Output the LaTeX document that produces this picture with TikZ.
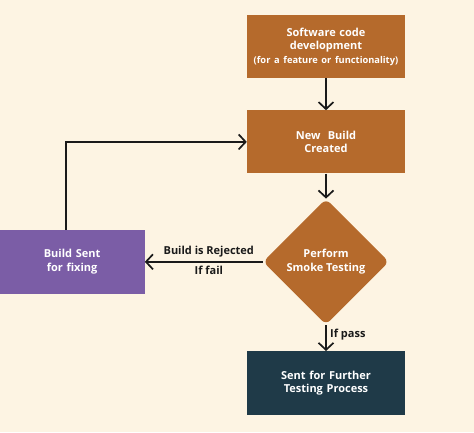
\documentclass[tikz,border=0pt]{standalone}
\usepackage{fontspec}
\setmainfont{Open Sans}
\usetikzlibrary{positioning, arrows.meta, shapes.geometric}
\definecolor{SmokeCream}{HTML}{FDF4E3}
\definecolor{SmokeOrange}{HTML}{B56A2C}
\definecolor{SmokePurple}{HTML}{7B5DA6}
\definecolor{SmokeNavy}{HTML}{1F3A48}
\definecolor{SmokeInk}{HTML}{1A1A1A}

\begin{document}
\begin{tikzpicture}[
        node distance=32pt,
        stage/.style={
            rectangle, minimum width=158pt, minimum height=63pt, inner sep=0pt,
            align=center, text width=150pt, text=white, font=\bfseries\fontsize{11}{13.5}\selectfont
        },
        check/.style={
            diamond, rounded corners=6pt, minimum width=126pt, minimum height=126pt, inner sep=0pt,
            align=center, text=white, font=\bfseries\fontsize{11}{13.5}\selectfont
        },
        arrow/.style={line width=1.7pt, color=SmokeInk, -{Straight Barb[length=7pt,width=15pt]}},
        tag/.style={font=\bfseries\fontsize{11}{13}\selectfont, text=SmokeInk}
    ]

    % Background
    \fill[SmokeCream] (0,0) rectangle (474pt,-432pt);
    \useasboundingbox (0,0) rectangle (474pt,-432pt);

    % Steps
    \node (code) [stage, fill=SmokeOrange] at (326pt,-46.5pt) {
        Software code\\
        development\\
        {\fontsize{9.3}{13.5}\selectfont (for a feature or functionality)}
    };

    \node (build) [stage, below=of code, fill=SmokeOrange] {
        New\ \ Build\\
        Created
    };

    \node (smoke) [check, below=25pt of build, fill=SmokeOrange] {
        Perform\\
        Smoke Testing
    };

    \node (fixing) [stage, left=118pt of smoke, fill=SmokePurple, minimum width=145pt, minimum height=64pt, text width=140pt] {
        Build Sent\\
        for fixing
    };

    \node (further) [stage, below=26pt of smoke, fill=SmokeNavy, minimum height=64pt] {
        Sent for Further\\
        Testing Process
    };

    % Flow arrows
    \draw [arrow] (code.south) -- (build.north);
    \draw [arrow] (build.south) -- (smoke.north);
    \draw [arrow] (smoke.west) -- node[tag, above, xshift=5pt]{Build is Rejected} node[tag, below, xshift=5pt]{If fail} (fixing.east);
    \draw [arrow] (smoke.south) -- node[tag, right, yshift=3pt]{If pass} (further.north);

    % Back to build
    \draw [arrow] ([xshift=-6pt]fixing.north) |- (build.west);

\end{tikzpicture}
\end{document}
